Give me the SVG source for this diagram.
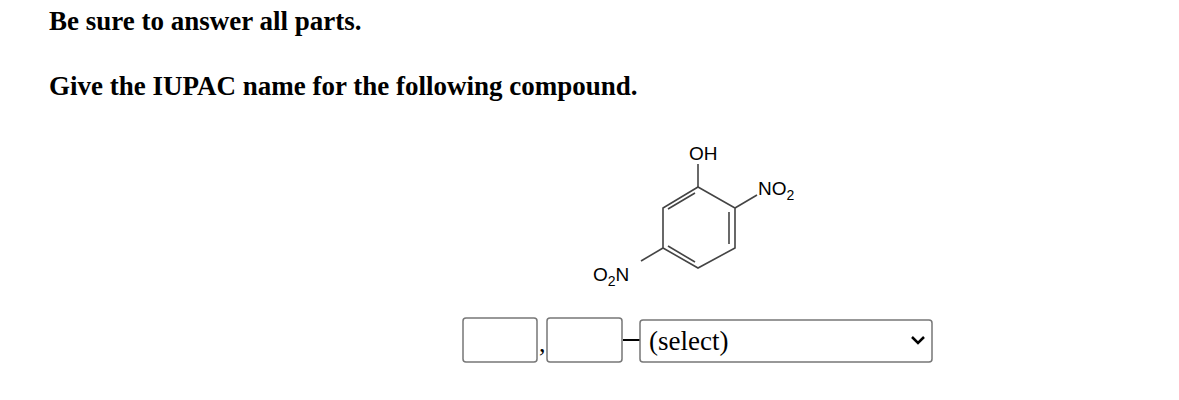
<svg xmlns="http://www.w3.org/2000/svg" width="1179" height="400" viewBox="0 0 1179 400">
<style>
.h{font-family:"Liberation Serif",serif;font-weight:bold;font-size:27px;fill:#000}
.c{font-family:"Liberation Sans",Arial,sans-serif;font-size:19px;fill:#000}
.b{stroke:#444;stroke-width:1.6;fill:none}
.box{fill:#fff;stroke:#777;stroke-width:1.5}
</style>
<rect width="1179" height="400" fill="#fff"/>
<text class="h" x="49" y="30">Be sure to answer all parts.</text>
<text class="h" x="49" y="95">Give the IUPAC name for the following compound.</text>
<g id="molecule">
<polygon class="b" points="698,187 735,208 735,248 698,268 663,248 663,208"/>
<line class="b" x1="695" y1="193" x2="668" y2="209"/>
<line class="b" x1="729" y1="212" x2="729" y2="244"/>
<line class="b" x1="668" y1="246" x2="695" y2="262"/>
<line class="b" x1="698" y1="187" x2="698" y2="164"/>
<line class="b" x1="735" y1="208" x2="757" y2="195"/>
<line class="b" x1="663" y1="248" x2="641" y2="261"/>
<text class="c" x="689" y="160">OH</text>
<text class="c" x="758" y="195">NO<tspan font-size="14" dy="5">2</tspan></text>
<text class="c" x="593" y="281">O<tspan font-size="14" dy="5">2</tspan><tspan dy="-5">N</tspan></text>
</g>
<g id="answer">
<rect class="box" x="463" y="318" width="74" height="44" rx="3"/>
<text x="539" y="352" font-family="Liberation Serif,serif" font-size="26">,</text>
<rect class="box" x="547" y="318" width="75" height="44" rx="3"/>
<line x1="623" y1="340" x2="640" y2="340" stroke="#000" stroke-width="2"/>
<rect class="box" x="640" y="320" width="292" height="42" rx="3"/>
<text x="649" y="350" font-family="Liberation Serif,serif" font-size="27">(select)</text>
<polyline points="912,337 918,343 924,337" fill="none" stroke="#000" stroke-width="2.5"/>
</g>
</svg>
